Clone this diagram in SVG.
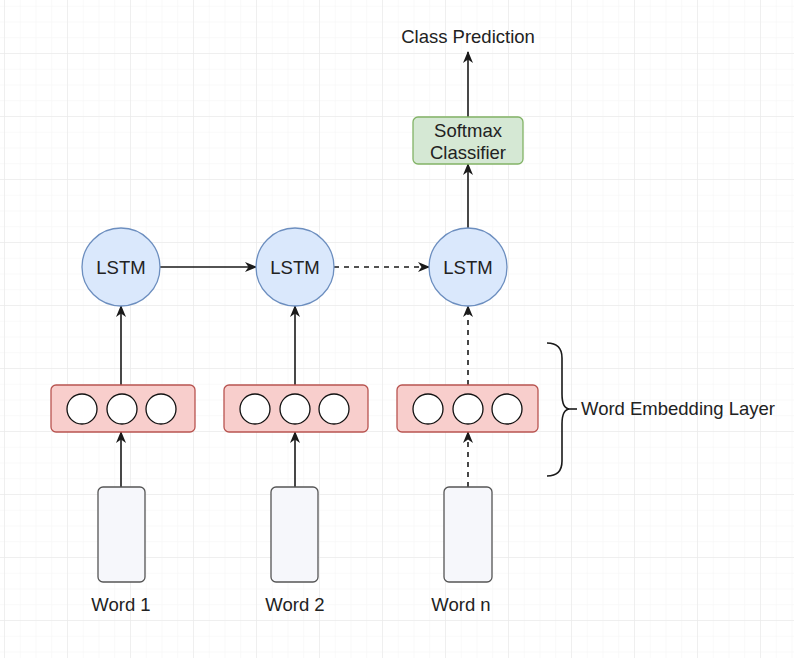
<svg xmlns="http://www.w3.org/2000/svg" width="794" height="658" viewBox="0 0 794 658">
<defs>
<pattern id="minor" x="4" y="-10" width="15.75" height="15.75" patternUnits="userSpaceOnUse"><path d="M0 0H15.75M0 0V15.75" fill="none" stroke="#f4f4f4" stroke-width="1"/></pattern>
<pattern id="major" x="4" y="-10" width="63" height="63" patternUnits="userSpaceOnUse"><path d="M0 0H63M0 0V63" fill="none" stroke="#e6e6e6" stroke-width="1"/></pattern>
<marker id="ah" viewBox="0 0 12 12" refX="11" refY="6" markerWidth="12" markerHeight="12" orient="auto" markerUnits="userSpaceOnUse"><path d="M0 1L12 6L0 11L3.5 6Z" fill="#1a1a1a"/></marker>
</defs>
<style>
text{font-family:"Liberation Sans",Arial,sans-serif;font-size:18.5px;fill:#222}
.lstm{fill:#dae8fc;stroke:#6c8ebf;stroke-width:1.3}
.emb{fill:#f8cecc;stroke:#b85450;stroke-width:1.3}
.dot{fill:#fff;stroke:#111;stroke-width:1.3}
.word{fill:#f6f7fb;stroke:#555;stroke-width:1.3}
.c{stroke:#1a1a1a;stroke-width:1.6;fill:none;marker-end:url(#ah)}
.d{stroke-dasharray:5 5}
</style>
<rect width="794" height="658" fill="#fff"/>
<rect width="794" height="658" fill="url(#minor)"/>
<rect width="794" height="658" fill="url(#major)"/>
<g id="connectors">
<path class="c" d="M121 487V432"/>
<path class="c" d="M295 487V432"/>
<path class="c d" d="M468 487V432"/>
<path class="c" d="M121 385V306"/>
<path class="c" d="M295 385V306"/>
<path class="c d" d="M468 385V306"/>
<path class="c" d="M160 267H256"/>
<path class="c d" d="M334 267H429"/>
<path class="c" d="M468 228V164"/>
<path class="c" d="M468 117V52"/>
</g>
<g id="word1"><rect class="word" x="98" y="487" width="47" height="95" rx="5"/><text x="121" y="611" text-anchor="middle">Word 1</text></g>
<g id="word2"><rect class="word" x="271" y="487" width="47" height="95" rx="5"/><text x="295" y="611" text-anchor="middle">Word 2</text></g>
<g id="wordn"><rect class="word" x="444" y="487" width="48" height="95" rx="5"/><text x="461" y="611" text-anchor="middle">Word n</text></g>
<g id="emb1"><rect class="emb" x="51" y="385" width="144" height="47" rx="5"/><circle class="dot" cx="82" cy="409" r="15"/><circle class="dot" cx="122" cy="409" r="15"/><circle class="dot" cx="161" cy="409" r="15"/></g>
<g id="emb2"><rect class="emb" x="224" y="385" width="144" height="47" rx="5"/><circle class="dot" cx="255" cy="409" r="15"/><circle class="dot" cx="295" cy="409" r="15"/><circle class="dot" cx="334" cy="409" r="15"/></g>
<g id="embn"><rect class="emb" x="397" y="385" width="141" height="47" rx="5"/><circle class="dot" cx="428" cy="409" r="15"/><circle class="dot" cx="468" cy="409" r="15"/><circle class="dot" cx="507" cy="409" r="15"/></g>
<g id="lstm1"><circle class="lstm" cx="121" cy="267" r="39"/><text x="121" y="274" text-anchor="middle">LSTM</text></g>
<g id="lstm2"><circle class="lstm" cx="295" cy="267" r="39"/><text x="295" y="274" text-anchor="middle">LSTM</text></g>
<g id="lstmn"><circle class="lstm" cx="468" cy="267" r="39"/><text x="468" y="274" text-anchor="middle">LSTM</text></g>
<g id="softmax"><rect x="413" y="117" width="110" height="47" rx="5" fill="#d5e8d4" stroke="#82b366" stroke-width="1.3"/><text x="468" y="137" text-anchor="middle">Softmax</text><text x="468" y="159" text-anchor="middle">Classifier</text></g>
<g id="class-prediction"><text x="468" y="43" text-anchor="middle">Class Prediction</text></g>
<g id="brace"><path d="M547 343Q562 343 562 358V394Q562 409 570 409Q562 409 562 424V461Q562 476 547 476" fill="none" stroke="#1a1a1a" stroke-width="1.6"/><path d="M570 409H577" stroke="#1a1a1a" stroke-width="1.6"/><text x="581" y="415">Word Embedding Layer</text></g>
</svg>
